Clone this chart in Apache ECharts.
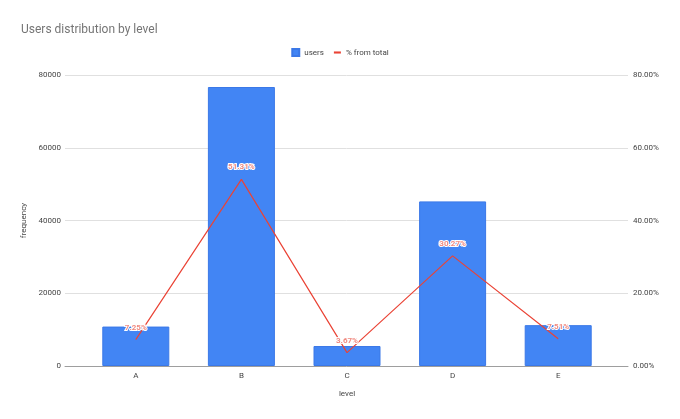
<!DOCTYPE html>
<html>
<head>
<meta charset="utf-8">
<script src="https://cdn.jsdelivr.net/npm/echarts@6/dist/echarts.min.js"></script>
<style>html,body{margin:0;padding:0;background:#fff}#c{width:680px;height:419px}</style>
</head>
<body>
<div id="c"></div>
<script>
const categories = ['A', 'B', 'C', 'D', 'E'];
const users = [10840, 76700, 5490, 45250, 11230];
const pctFromTotal = [7.25, 51.31, 3.67, 30.27, 7.51];
const leftTicks = [0, 20000, 40000, 60000, 80000];
const rightTicks = [0, 20, 40, 60, 80];

const FONT = 'Roboto';
const chart = echarts.init(document.getElementById('c'));
chart.setOption({
  backgroundColor: '#ffffff',
  animation: false,
  textStyle: { fontFamily: FONT },
  title: {
    text: 'Users distribution by level',
    left: 16, top: 19,
    textStyle: { fontFamily: FONT, fontSize: 12, fontWeight: 'normal', color: '#757575' }
  },
  legend: {
    top: 43, left: 'center',
    itemWidth: 7, itemHeight: 7, itemGap: 10,
    textStyle: { fontFamily: FONT, fontSize: 8, color: '#444' },
    data: [
      { name: 'users', icon: 'rect' },
      { name: '% from total', icon: 'path://M0,0 H10 V3 H0 Z' }
    ]
  },
  grid: [
    { left: 65, right: 52, top: 75, bottom: 53 },
    { left: 83, right: 69, top: 75, bottom: 53 }
  ],
  xAxis: [
    {
      gridIndex: 0, type: 'value', min: 0, max: 1,
      axisLine: { show: true, onZero: false, lineStyle: { color: '#9e9e9e', width: 1 } },
      axisTick: { show: false }, axisLabel: { show: false }, splitLine: { show: false }
    },
    {
      gridIndex: 1, type: 'category', data: categories,
      axisLine: { show: false }, axisTick: { show: false },
      axisLabel: { fontFamily: FONT, fontSize: 8, color: '#444', margin: 6 },
      name: 'level', nameLocation: 'middle', nameGap: 24,
      nameTextStyle: { fontFamily: FONT, fontSize: 8, color: '#444' }
    }
  ],
  yAxis: [
    {
      gridIndex: 0, type: 'value', min: leftTicks[0], max: leftTicks[leftTicks.length - 1], interval: 20000,
      position: 'left',
      axisLine: { show: false }, axisTick: { show: false },
      axisLabel: { fontFamily: FONT, fontSize: 8, color: '#444', margin: 4,
        formatter: v => String(v) },
      splitLine: { show: true, lineStyle: { color: '#e0e0e0', width: 1 } },
      name: 'frequency', nameLocation: 'middle', nameRotate: 90, nameGap: 34,
      nameTextStyle: { fontFamily: FONT, fontSize: 8, color: '#444' }
    },
    {
      gridIndex: 0, type: 'value', min: rightTicks[0], max: rightTicks[rightTicks.length - 1], interval: 20,
      position: 'right',
      axisLine: { show: false }, axisTick: { show: false },
      axisLabel: { fontFamily: FONT, fontSize: 8, color: '#444', margin: 5,
        formatter: v => v.toFixed(2) + '%' },
      splitLine: { show: false }
    },
    {
      gridIndex: 1, type: 'value', min: 0, max: 80000, position: 'left',
      show: false, splitLine: { show: false }
    },
    {
      gridIndex: 1, type: 'value', min: 0, max: 80, position: 'right',
      show: false, splitLine: { show: false }
    }
  ],
  series: [
    {
      name: 'users', type: 'bar', xAxisIndex: 1, yAxisIndex: 2,
      data: users, barWidth: 67,
      itemStyle: { color: '#4285f4', borderColor: '#3b78e7', borderWidth: 1 }
    },
    {
      name: '% from total', type: 'line', xAxisIndex: 1, yAxisIndex: 3,
      data: pctFromTotal, showSymbol: true, symbol: 'circle', symbolSize: 0.1,
      lineStyle: { color: '#ea4335', width: 1.2 },
      itemStyle: { color: '#ea4335' },
      label: {
        show: true, position: 'top', distance: 8,
        formatter: p => p.value.toFixed(2) + '%',
        fontFamily: FONT, fontSize: 8, fontWeight: 'bold', color: '#f08a80',
        textBorderColor: '#ffffff', textBorderWidth: 2
      },
      z: 5
    }
  ]
});
</script>
</body>
</html>
